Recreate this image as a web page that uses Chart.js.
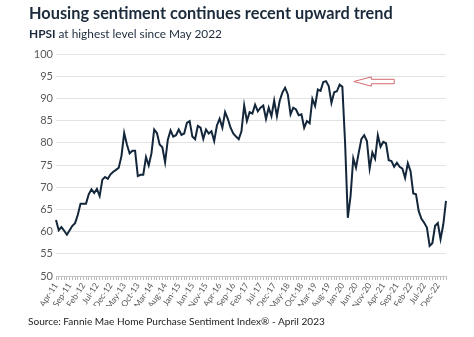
<!DOCTYPE html>
<html>
<head>
<meta charset="utf-8">
<script src="https://cdn.jsdelivr.net/npm/chart.js@4.4.1/dist/chart.umd.min.js"></script>
<style>
  html, body { margin: 0; padding: 0; background: #fff; }
  #wrap { position: relative; width: 474px; height: 337px; overflow: hidden; font-family: Lato, "Noto Sans", sans-serif; }
  #chartBox { position: absolute; left: 0; top: 0; width: 474px; height: 337px; }
  .txt { position: absolute; white-space: nowrap; color: #1c2b3c; }
  #title { left: 29px; top: 3px; font-size: 18px; font-weight: 700; }
  #sub { left: 29px; top: 26px; font-size: 13px; }
  #src { left: 28px; top: 315px; font-size: 12px; color: #222; }
</style>
</head>
<body>
<div id="wrap">
  <div id="chartBox"><canvas id="chart"></canvas></div>
  <div class="txt" id="title">Housing sentiment continues recent upward trend</div>
  <div class="txt" id="sub"><b>HPSI</b> at highest level since May 2022</div>
  <div class="txt" id="src">Source: Fannie Mae Home Purchase Sentiment Index® - April 2023</div>
</div>
<script>
// monthly categories Apr-11 .. Mar-23
const monthNames = ["Jan","Feb","Mar","Apr","May","Jun","Jul","Aug","Sep","Oct","Nov","Dec"];
const months = [];
for (let y = 2011; y <= 2023; y++) {
  for (let m = 0; m < 12; m++) {
    if (y === 2011 && m < 3) continue;
    if (y === 2023 && m > 2) continue;
    months.push(monthNames[m] + "-" + String(y).slice(2));
  }
}

// labels shown under the axis (every 5th month)
const tickLabels = ["Apr-11","Sep-11","Feb-12","Jul-12","Dec-12","May-13","Oct-13","Mar-14","Aug-14",
  "Jan-15","Jun-15","Nov-15","Apr-16","Sep-16","Feb-17","Jul-17","Dec-17","May-18","Oct-18",
  "Mar-19","Aug-19","Jan-20","Jun-20","Nov-20","Apr-21","Sep-21","Feb-22","Jul-22","Dec-22"];

// HPSI values
const hpsi2011 = [62.6, 60.3, 61.0, 60.2, 59.3, 60.3, 61.3, 61.9, 63.8];
const hpsi2012 = [66.3, 66.3, 66.3, 68.4, 69.5, 68.7, 69.6, 68.0, 71.7, 72.3, 71.9, 72.9];
const hpsi2013 = [73.5, 73.9, 74.4, 77.0, 82.2, 79.6, 77.6, 78.2, 78.2, 72.5, 72.8, 72.8];
const hpsi2014 = [76.8, 74.9, 77.6, 83.0, 82.2, 79.6, 79.0, 75.6, 80.7, 82.8, 81.4, 81.7];
const hpsi2015 = [83.0, 81.8, 82.1, 84.5, 84.9, 81.4, 80.8, 83.8, 83.4, 80.9, 83.0, 82.1];
const hpsi2016 = [82.6, 80.4, 83.9, 85.4, 83.4, 86.9, 85.4, 83.4, 82.1, 81.4, 80.8, 82.6];
const hpsi2017 = [88.4, 84.9, 86.9, 86.6, 88.6, 87.1, 87.9, 88.4, 85.4, 87.9, 86.0, 89.5];
const hpsi2018 = [86.0, 89.4, 91.3, 92.4, 90.9, 86.4, 87.9, 87.5, 86.2, 86.4, 83.4, 84.9];
const hpsi2019 = [84.4, 89.9, 88.3, 92.0, 91.7, 93.7, 93.9, 92.8, 89.0, 91.4, 91.6, 93.1];
const hpsi2020 = [92.6, 80.0, 63.1, 68.0, 76.5, 74.4, 77.8, 80.9, 81.7, 80.4, 74.2, 77.8];
const hpsi2021 = [76.4, 81.7, 79.1, 80.2, 79.9, 76.1, 75.9, 74.6, 75.5, 74.6, 74.2, 72.1];
const hpsi2022 = [75.4, 73.6, 68.6, 68.4, 64.6, 62.9, 62.0, 60.9, 56.8, 57.4, 61.3, 61.9];
const hpsi2023 = [58.3, 61.6, 66.9];
const hpsi = [].concat(hpsi2011, hpsi2012, hpsi2013, hpsi2014, hpsi2015, hpsi2016,
  hpsi2017, hpsi2018, hpsi2019, hpsi2020, hpsi2021, hpsi2022, hpsi2023);

const yTicks = { min: 50, max: 100, step: 5 };

// outlined arrow pointing at the latest reading
const arrowPlugin = {
  id: "arrow",
  afterDatasetsDraw(chart) {
    const { ctx, scales: { x, y } } = chart;
    const tipX = x.getPixelForValue(109.2), tipY = y.getPixelForValue(93.8);
    const neckX = x.getPixelForValue(115.6);
    const tailX = x.getPixelForValue(124);
    const headT = y.getPixelForValue(94.85), headB = y.getPixelForValue(92.75);
    const shaftT = y.getPixelForValue(94.3), shaftB = y.getPixelForValue(93.3);
    ctx.save();
    ctx.beginPath();
    ctx.moveTo(tipX, tipY);
    ctx.lineTo(neckX, headT);
    ctx.lineTo(neckX, shaftT);
    ctx.lineTo(tailX, shaftT);
    ctx.lineTo(tailX, shaftB);
    ctx.lineTo(neckX, shaftB);
    ctx.lineTo(neckX, headB);
    ctx.closePath();
    ctx.fillStyle = "#fff";
    ctx.fill();
    ctx.strokeStyle = "#d06a6d";
    ctx.lineWidth = 1;
    ctx.stroke();
    ctx.restore();
  }
};

const ctx = document.getElementById("chart").getContext("2d");
new Chart(ctx, {
  type: "line",
  data: {
    labels: months,
    datasets: [{
      data: hpsi,
      borderColor: "#13263a",
      borderWidth: 2,
      pointRadius: 0,
      tension: 0,
      fill: false
    }]
  },
  options: {
    responsive: true,
    maintainAspectRatio: false,
    animation: false,
    layout: { padding: { left: 0, top: 54, right: 28, bottom: 31 } },
    plugins: { legend: { display: false }, tooltip: { enabled: false } },
    scales: {
      x: {
        offset: false,
        afterFit: (s) => { s.height = 30; },
        grid: { display: true, drawOnChartArea: false, drawTicks: true, tickLength: 4, color: "#b8b8b8" },
        border: { display: true, color: "#c4c4c4" },
        ticks: {
          autoSkip: false,
          minRotation: 57,
          maxRotation: 57,
          padding: 1,
          color: "#595959",
          font: { family: "Lato", size: 8.5 },
          callback: (v, i) => (tickLabels.includes(months[i]) ? months[i] : "")
        }
      },
      y: {
        min: yTicks.min,
        max: yTicks.max,
        afterFit: (s) => { s.width = 56; },
        grid: { color: "#e3e3e3", drawTicks: false },
        border: { display: false },
        ticks: {
          stepSize: yTicks.step,
          padding: 3,
          color: "#595959",
          font: { family: "Lato", size: 11 }
        }
      }
    }
  },
  plugins: [arrowPlugin]
});

// stretch the heading texts to the widths they have in the picture
function fit(id, w) {
  const el = document.getElementById(id);
  const fs = parseFloat(getComputedStyle(el).fontSize);
  const cur = el.getBoundingClientRect().width;
  el.style.fontSize = (fs * w / cur).toFixed(2) + "px";
}
fit("title", 364);
fit("sub", 193);
fit("src", 297);
</script>
</body>
</html>
